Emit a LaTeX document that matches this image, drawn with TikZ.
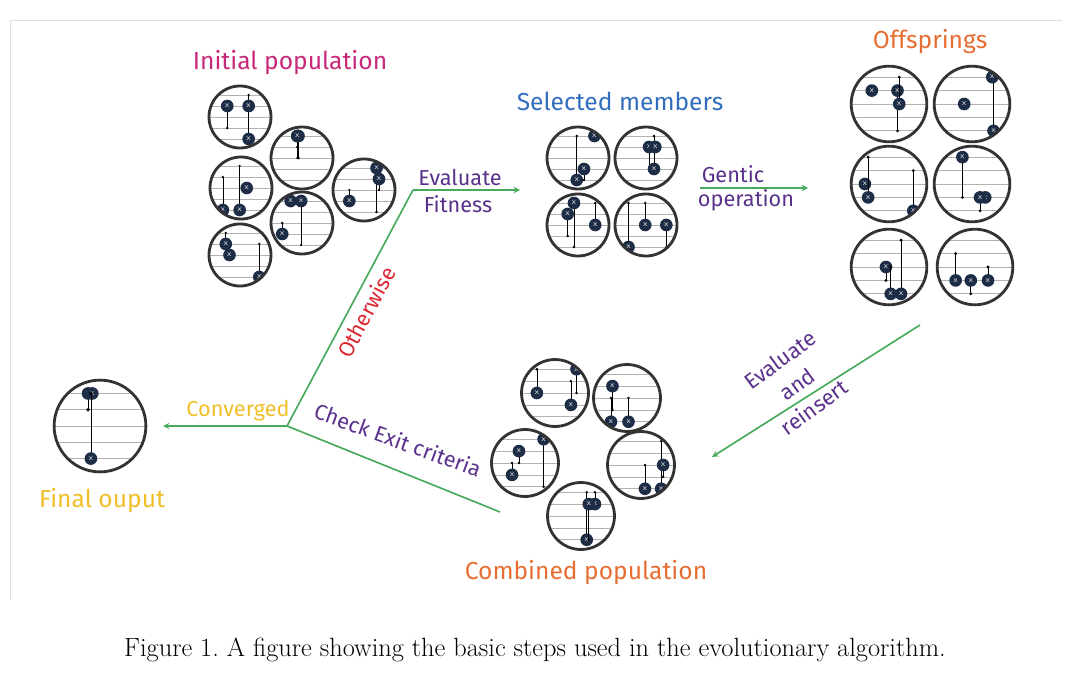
\documentclass[tikz,border=0pt]{standalone}
\usepackage{fontspec}
\newfontfamily\handfont{Fira Sans}
\usetikzlibrary{positioning}
\definecolor{gatenavy}{RGB}{30,45,70}
\definecolor{popmagenta}{RGB}{200,40,120}
\definecolor{selblue}{RGB}{50,110,190}
\definecolor{offorange}{RGB}{230,110,50}
\definecolor{outyellow}{RGB}{240,190,40}
\definecolor{steppurple}{RGB}{90,50,140}
\definecolor{elsered}{RGB}{220,40,50}
\definecolor{flowgreen}{RGB}{70,170,90}
\tikzstyle{title} = [font=\handfont\fontsize{21}{25}\selectfont]
\tikzstyle{steplabel} = [font=\handfont\fontsize{18.5}{22}\selectfont, text=steppurple, align=center, inner sep=1pt]
\tikzstyle{flow} = [flowgreen, line width=1.4pt]
\tikzstyle{arrow} = [flow, ->, >=stealth]
\tikzstyle{xgate} = [circle, fill=gatenavy, text=white, inner sep=0pt, minimum size=3.8mm, font=\scriptsize\sffamily]
\tikzset{
 circuit/.pic={
  \pgfmathsetseed{#1}
  \begin{scope}
   \clip (0,0) circle (31);
   \foreach \yy in {-22,-11,...,22} \draw[gray!60, line width=0.6pt] (-31,\yy) -- (31,\yy);
   \foreach \k in {1,2,3}{
    \pgfmathsetmacro\xx{rnd*44-22}
    \pgfmathsetmacro\ya{int(rnd*5)*11-22}
    \pgfmathsetmacro\yb{int(rnd*5)*11-22}
    \draw[line width=0.6pt] (\xx,\ya) -- (\xx,\yb);
    \fill (\xx,\ya) circle (1.3);
    \node[xgate] at (\xx,\yb) {x};
   }
  \end{scope}
  \draw[line width=2.4pt, black!80] (0,0) circle (31);
 }
}
\begin{document}
\begin{tikzpicture}[x=0.3mm, y=-0.3mm]
 \useasboundingbox (0,0) rectangle (1084,680);
 \draw[gray!25] (10,600) -- (10,20) -- (1062,20);

 % initial population
 \node (init_title) [title, text=popmagenta] at (290,63) {Initial population};
 \foreach \px/\py/\s in {240/117/1, 302/158/2, 241/188/3, 364/190/4, 302/223/5, 240/255/6}
  \pic at (\px,\py) {circuit=\s};

 % selected members
 \node (sel_title) [title, text=selblue] at (620,101) {Selected members};
 \foreach \px/\py/\s in {578/158/7, 646/158/8, 578/225/9, 646/225/10}
  \pic at (\px,\py) {circuit=\s};

 % offsprings
 \node (off_title) [title, text=offorange] at (930,42) {Offsprings};
 \foreach \px/\py/\s in {889/104/11, 972/104/12, 889/184/13, 972/184/14, 889/267/15, 975/267/16}
  \pic[scale=1.22] at (\px,\py) {circuit=\s};

 % combined population
 \node (comb_title) [title, text=offorange] at (586,573) {Combined population};
 \foreach \px/\py/\s in {555/393/17, 627/398/18, 525/463/19, 641/465/20, 581/516/21}
  \pic[scale=1.08] at (\px,\py) {circuit=\s};

 % final output
 \pic[scale=1.48] at (100,426) {circuit=22};
 \node (out_title) [title, text=outyellow] at (102,501) {Final ouput};

 \coordinate (comb_out) at (500,512);
 \coordinate (check) at (287,426);
 \coordinate (final_in) at (163,426);
 \coordinate (bend) at (413,190);
 \coordinate (sel_in) at (520,190);
 \coordinate (sel_out) at (700,188);
 \coordinate (off_in) at (808,188);
 \coordinate (off_out) at (920,325);
 \coordinate (comb_in) at (712,457);

 \draw [flow] (comb_out) -- (check);
 \draw [arrow] (check) -- (final_in);
 \draw [flow] (check) -- (bend);
 \draw [arrow] (bend) -- (sel_in);
 \draw [arrow] (sel_out) -- (off_in);
 \draw [arrow] (off_out) -- (comb_in);

 \node (evaluate) [steplabel] at (460,178) {Evaluate};
 \node (fitness) [steplabel] at (458,204) {Fitness};
 \node (genetic) [steplabel] at (733,174) {Gentic};
 \node (operation) [steplabel] at (746,200) {operation};
 \node (reinsert1) [steplabel, rotate=36] at (780,360) {Evaluate};
 \node (reinsert2) [steplabel, rotate=36] at (797,384) {and};
 \node (reinsert3) [steplabel, rotate=36] at (814,407) {reinsert};
 \node (exit) [steplabel, rotate=-20] at (398,440) {Check Exit criteria};
 \node (otherwise) [steplabel, text=elsered, rotate=62] at (366,312) {Otherwise};
 \node (converged) [steplabel, text=outyellow] at (238,411) {Converged};

 \node (caption) [font=\fontsize{22.5}{27}\selectfont] at (535,650) {Figure 1.\ A figure showing the basic steps used in the evolutionary algorithm.};
\end{tikzpicture}
\end{document}
